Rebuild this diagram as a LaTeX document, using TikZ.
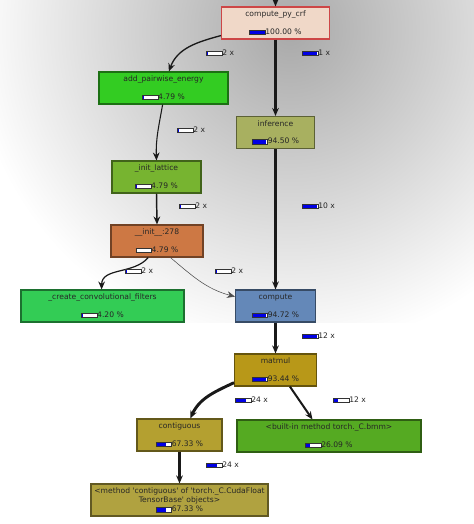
\documentclass[tikz,border=0pt]{standalone}
\usepackage{fontspec}
\setmainfont{DejaVu Sans}
\usetikzlibrary{arrows.meta,positioning}
\definecolor{crfbg}{RGB}{240,216,200}
\definecolor{crfline}{RGB}{205,70,70}
\definecolor{pairbg}{RGB}{51,204,34}
\definecolor{infbg}{RGB}{168,176,96}
\definecolor{latbg}{RGB}{119,180,48}
\definecolor{initbg}{RGB}{205,120,68}
\definecolor{convbg}{RGB}{51,204,85}
\definecolor{compbg}{RGB}{100,136,184}
\definecolor{mmbg}{RGB}{184,152,24}
\definecolor{contigbg}{RGB}{180,160,48}
\definecolor{bmmbg}{RGB}{85,170,34}
\definecolor{methbg}{RGB}{176,162,64}
% soft shadow behind the graph
\pgfdeclareradialshading{shadowfade}{\pgfpointorigin}{color(0bp)=(black!34); color(17bp)=(white); color(50bp)=(white)}
% small bar that shows a share
\newcommand\pbar[1]{{\setlength\fboxsep{0pt}\setlength\fboxrule{0.5pt}%
  \fcolorbox{black!80}{white}{\textcolor{blue!90!black}{\rule{#1}{2.8pt}}\hspace{\dimexpr 11pt-#1\relax}}}}
\tikzset{
    %Define standard arrow tip
    >={Stealth[length=6pt,width=5pt]},
    %Define style for function boxes
    func/.style={
           rectangle,
           draw=#1!55!black, line width=0.8pt,
           fill=#1,
           minimum height=24pt,
           inner sep=0pt,
           text=black!85,
           font=\fontsize{5.7}{7}\selectfont,
           align=center},
    % Define style for call counts
    cnt/.style={
           anchor=west,
           inner sep=0pt,
           text=black!85,
           font=\fontsize{5.7}{7}\selectfont},
    % Define arrow style
    call/.style={
           ->,
           draw=black!90}
}
\begin{document}
\begin{tikzpicture}[x=0.75pt,y=0.75pt]
\clip (0,0) rectangle (474,-524);

%shadow behind the graph
\begin{scope}
\clip (0,0) rectangle (474,-322);
\shade[shading=shadowfade] (290,-30) circle (470);
\end{scope}

%functions
\node[func=crfbg, draw=crfline, minimum width=81pt] (crf) at (275.5,-23) {compute\_py\_crf\\[6pt]\pbar{11pt}100.00 \%};
\node[func=pairbg, minimum width=96.75pt] (pair) at (163.5,-88) {add\_pairwise\_energy\\[6pt]\pbar{0.5pt}4.79 \%};
\node[func=infbg, minimum width=58.5pt] (inf) at (275.5,-132.5) {inference\\[6pt]\pbar{10.4pt}94.50 \%};
\node[func=latbg, minimum width=66.75pt] (lat) at (156.5,-177) {\_init\_lattice\\[6pt]\pbar{0.5pt}4.79 \%};
\node[func=initbg, minimum width=69pt] (init) at (157,-241) {\_\_init\_\_:278\\[6pt]\pbar{0.5pt}4.79 \%};
\node[func=convbg, minimum width=122.25pt] (conv) at (102.5,-306) {\_create\_convolutional\_filters\\[6pt]\pbar{0.46pt}4.20 \%};
\node[func=compbg, minimum width=60pt] (comp) at (275.5,-306) {compute\\[6pt]\pbar{10.4pt}94.72 \%};
\node[func=mmbg, minimum width=61.5pt] (mm) at (275.5,-370) {matmul\\[6pt]\pbar{10.3pt}93.44 \%};
\node[func=contigbg, minimum width=63.75pt] (contig) at (179.5,-435) {contiguous\\[6pt]\pbar{7.4pt}67.33 \%};
\node[func=bmmbg, minimum width=138pt] (bmm) at (329,-436) {<built-in method torch.\_C.bmm>\\[6pt]\pbar{2.9pt}26.09 \%};
\node[func=methbg, minimum width=132.75pt] (meth) at (179.5,-500) {<method \textquotesingle contiguous\textquotesingle{} of \textquotesingle torch.\_C.CudaFloat\\TensorBase\textquotesingle{} objects>\\\pbar{7.4pt}67.33 \%};

%calls
\coordinate (caller) at (275.5,12);
\draw[call, line width=2.2pt] (caller) -- (crf.north);
\draw[call, line width=1pt] (crf.193) to[out=195,in=70] (pair.72);
\draw[call, line width=2.5pt] (crf.south) -- (inf.north);
\draw[call, line width=0.8pt] (pair.-93) to[out=-100,in=92] (lat.north);
\draw[call, line width=2.5pt] (inf.south) -- (comp.north);
\draw[call, line width=1.1pt] (lat.south) -- (init.north);
\draw[call, line width=0.9pt] (init.-118) to[out=-130,in=90] (conv.93);
\draw[call, line width=0.4pt, draw=black!70] (init.-51) to[out=-40,in=165] (comp.167);
\draw[call, line width=2.4pt] (comp.south) -- (mm.north);
\draw[call, line width=2.2pt] (mm.197) to[out=205,in=65] (contig.57);
\draw[call, line width=1.5pt] (mm.-49) -- (bmm.135);
\draw[call, line width=2pt] (contig.south) -- (meth.north);

%call counts
\node[cnt] (n1) at (206,-53) {\pbar{0.4pt}2 x};
\node[cnt] (n2) at (302,-53) {\pbar{10.5pt}1 x};
\node[cnt] (n3) at (177,-130) {\pbar{0.4pt}2 x};
\node[cnt] (n4) at (302,-206) {\pbar{10.4pt}10 x};
\node[cnt] (n5) at (179,-206) {\pbar{0.4pt}2 x};
\node[cnt] (n6) at (125,-271) {\pbar{0.4pt}2 x};
\node[cnt] (n7) at (215,-271) {\pbar{0.4pt}2 x};
\node[cnt] (n8) at (302,-336) {\pbar{10.4pt}12 x};
\node[cnt] (n9) at (235,-400) {\pbar{7.4pt}24 x};
\node[cnt] (n10) at (333,-400) {\pbar{2.9pt}12 x};
\node[cnt] (n11) at (206,-465) {\pbar{7.4pt}24 x};

\end{tikzpicture}
\end{document}
